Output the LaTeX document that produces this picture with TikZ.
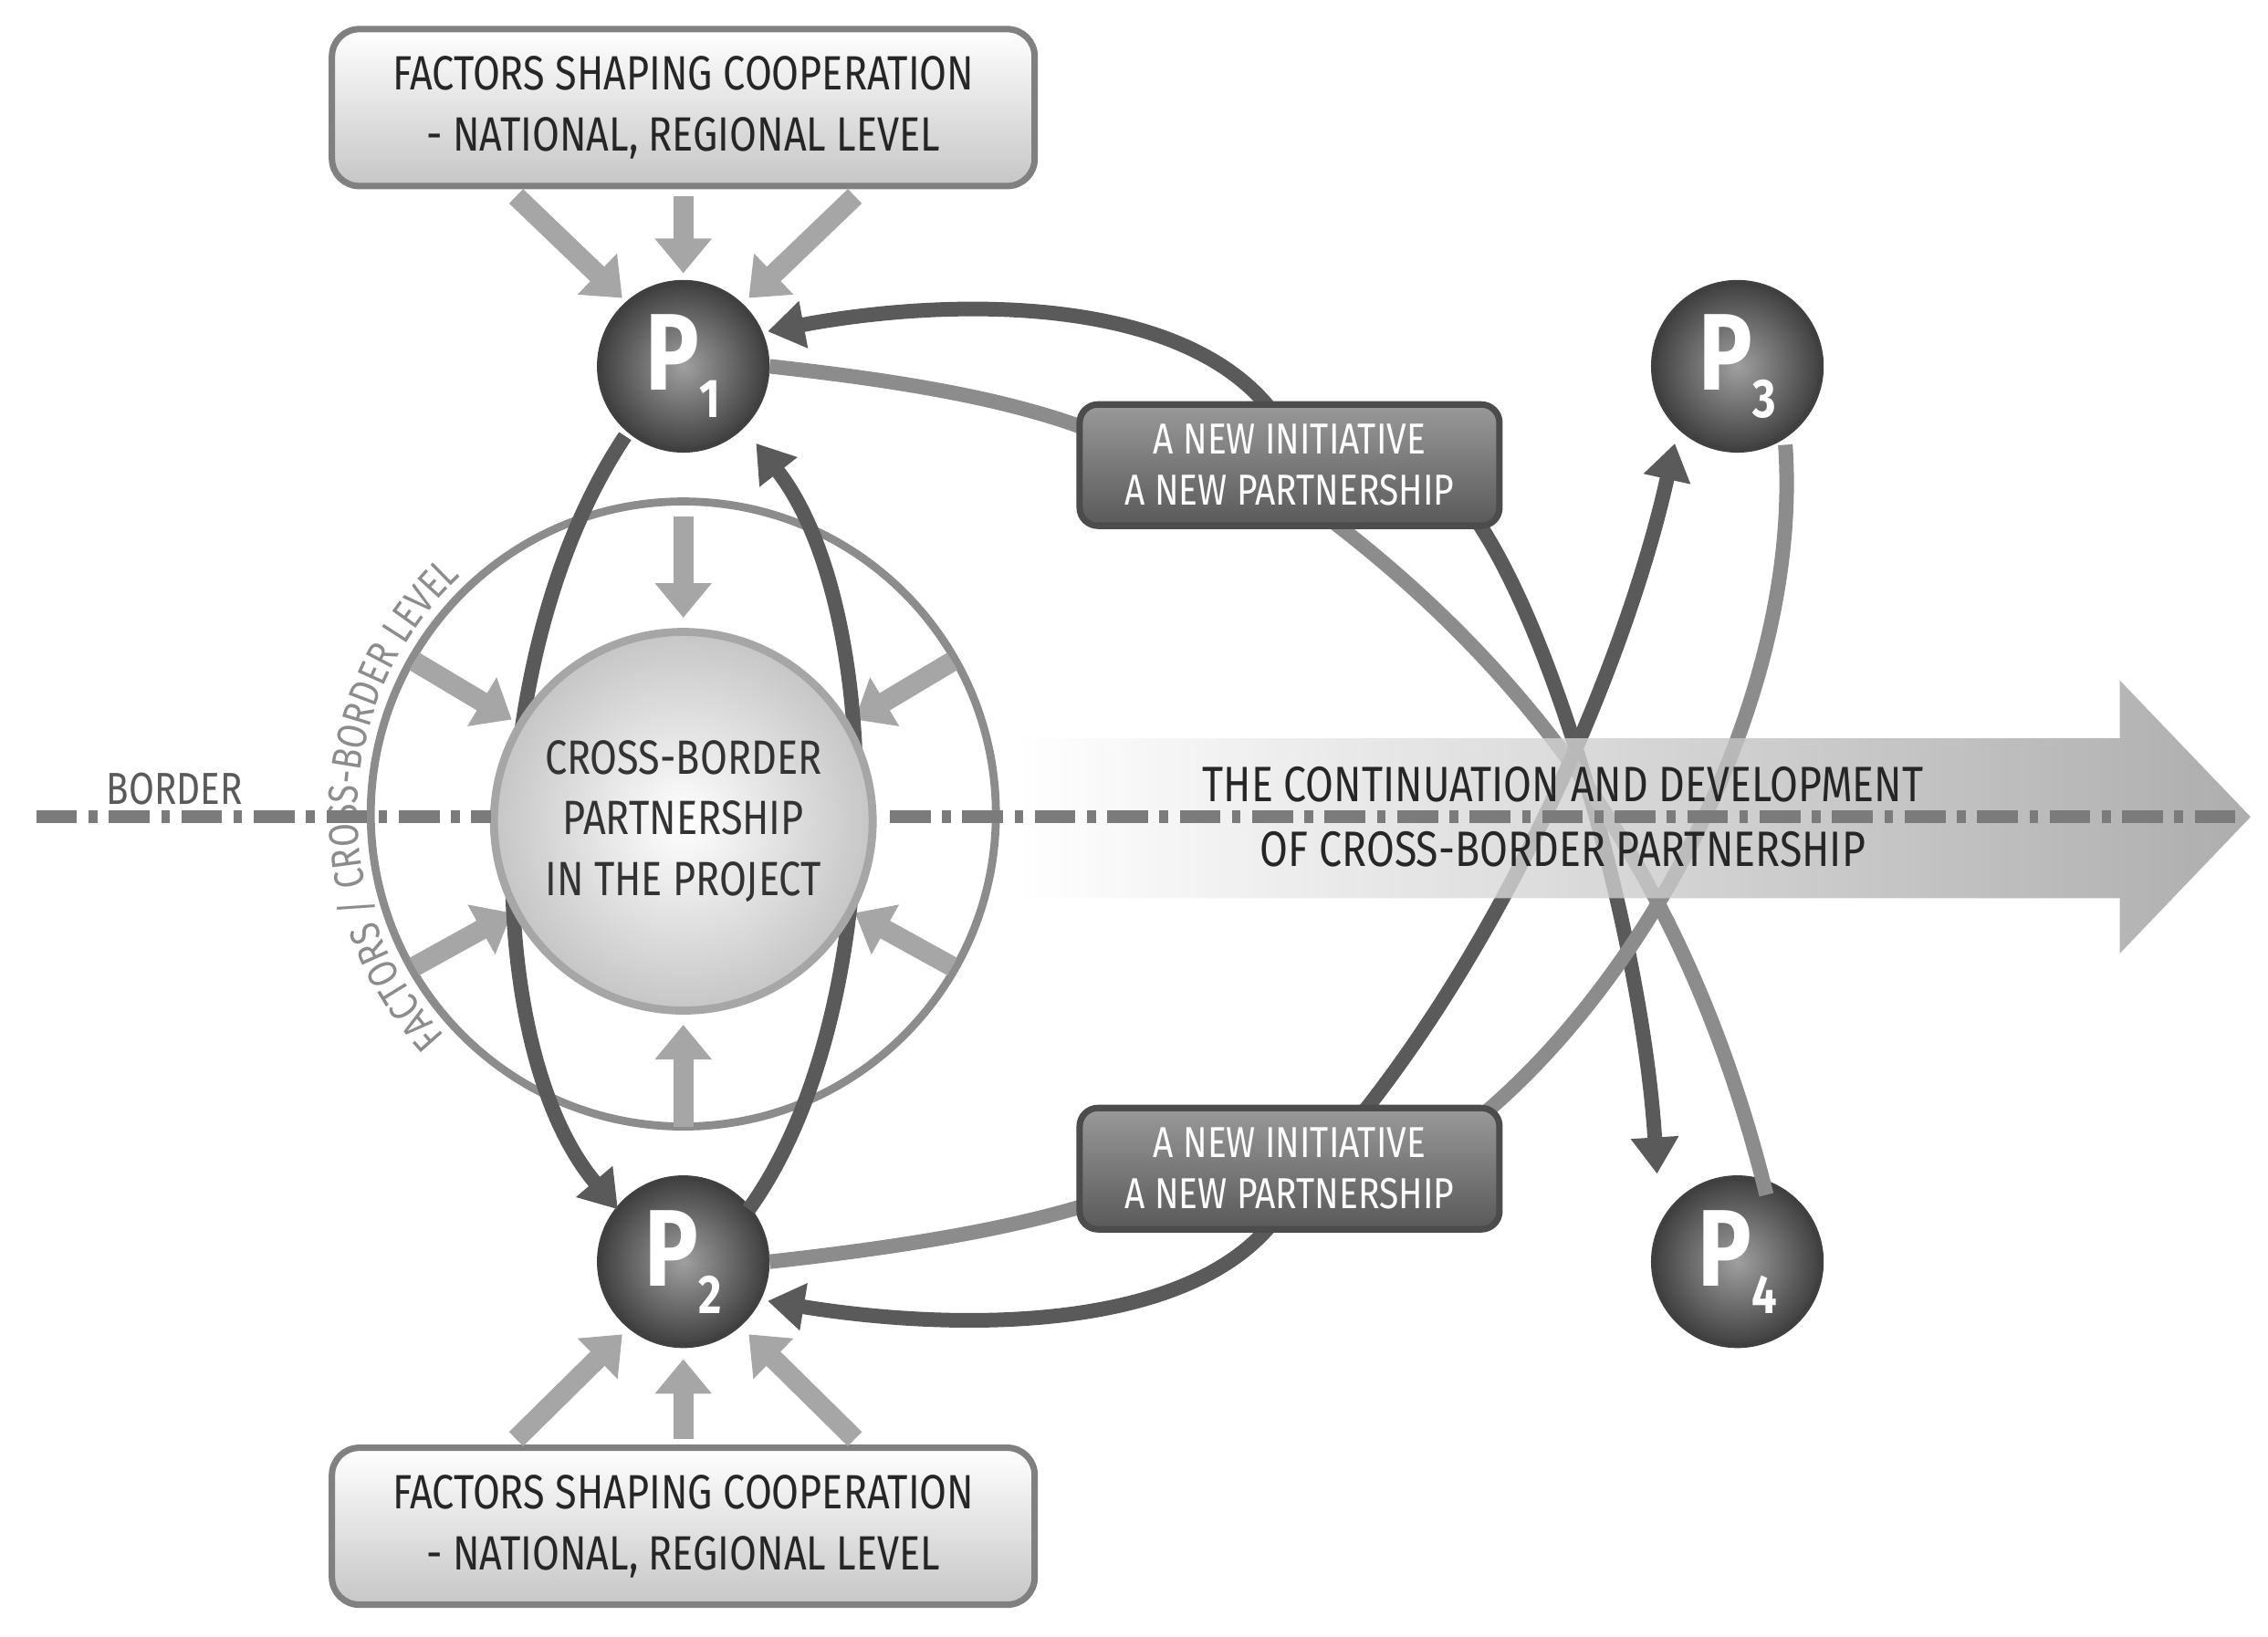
\documentclass[tikz,border=0pt]{standalone}
\usepackage{fontspec}
\setmainfont{Fira Sans}[FakeStretch=0.82]
\usetikzlibrary{arrows.meta,decorations.text,shapes.geometric}
\definecolor{lgray}{HTML}{A6A6A6}
\definecolor{mgray}{HTML}{8C8C8C}
\definecolor{dgray}{HTML}{5A5A5A}
\tikzset{
  block/.style={line width=0.22cm,lgray,-{Triangle[width=0.6cm,length=0.38cm]}},
  curve/.style={line width=0.16cm,mgray},
  darrow/.style={line width=0.16cm,dgray,-{Triangle[width=0.5cm,length=0.4cm]}},
  fbox/.style={draw=gray,line width=2pt,rounded corners=0.3cm,top color=white,bottom color=gray!45,
    minimum width=7.7cm,minimum height=1.72cm,align=center,font=\fontsize{15}{19}\selectfont,text=black!85},
  nbox/.style={draw=black!70,line width=2pt,rounded corners=0.2cm,top color=gray!80,bottom color=black!65,
    minimum width=4.6cm,minimum height=1.33cm,align=center,font=\fontsize{13.5}{16}\selectfont,text=white},
  pnode/.style={circle,draw=black!75,line width=1.5pt,inner color=gray!75,outer color=black!75,minimum size=1.84cm,inner sep=0pt,
    text=white,font=\bfseries\fontsize{34}{34}\selectfont},
}
\newcommand{\plabel}[1]{P\raisebox{-0.25em}{\fontsize{17}{17}\selectfont #1}}
\begin{document}
\begin{tikzpicture}[x=0.01593cm,y=-0.01593cm]
\useasboundingbox (0,0) rectangle (1560,1126);

% boxes
\node[fbox] (top) at (470,74) {FACTORS SHAPING COOPERATION\\- NATIONAL, REGIONAL LEVEL};
\node[fbox] (bot) at (470,1050) {FACTORS SHAPING COOPERATION\\- NATIONAL, REGIONAL LEVEL};

% partners
\node[pnode] (p1) at (470,252) {\plabel{1}};
\node[pnode] (p2) at (470,868) {\plabel{2}};
\node[pnode] (p3) at (1195,252) {\plabel{3}};
\node[pnode] (p4) at (1195,868) {\plabel{4}};

% cross-border level circle
\draw[mgray,line width=2.5pt] (470,560) circle[radius=215];
\begin{scope}[yscale=-1]
\path[decorate,decoration={text along path,text align=center,
  text={|\fontsize{13}{13}\selectfont\color{mgray}|FACTORS / CROSS-BORDER LEVEL}}]
  (470,-560) ++(231:224) arc[start angle=231,end angle=125,radius=224];
\end{scope}

% factor arrows
\draw[block] (355,135) -- (428,205);
\draw[block] (470,135) -- (470,188);
\draw[block] (588,135) -- (515,205);
\draw[block] (355,990) -- (428,918);
\draw[block] (470,990) -- (470,935);
\draw[block] (588,990) -- (515,918);
\draw[block] (470,355) -- (470,425);
\draw[block] (470,775) -- (470,705);
\draw[block] (285,455) -- (352,495);
\draw[block] (655,455) -- (588,495);
\draw[block] (285,665) -- (352,628);
\draw[block] (655,665) -- (588,628);

% P1 - P2 loops
\draw[darrow] (430,300) .. controls (330,450) and (330,720) .. (425,832);
\draw[darrow] (515,832) .. controls (610,700) and (610,420) .. (520,305);

% project
\node[circle,draw=lgray,line width=2.5pt,inner color=white,outer color=gray!45,minimum size=4.15cm,align=center,
  font=\fontsize{15}{19}\selectfont,text=black!80] (cb) at (470,565) {CROSS-BORDER\\PARTNERSHIP\\IN THE PROJECT};

% long curves
\draw[curve] (p1.east) .. controls (620,262) and (700,275) .. (760,300);
\draw[curve] (p2.east) .. controls (620,858) and (700,845) .. (760,825);
\draw[darrow] (880,290) .. controls (820,200) and (650,205) .. (528,228);
\draw[darrow] (880,835) .. controls (820,920) and (650,915) .. (528,895);
\draw[darrow,shorten >=2pt] (1010,350) .. controls (1070,430) and (1130,650) .. (1140,812);
\draw[curve] (905,350) .. controls (1080,480) and (1170,640) .. (1215,822);
\draw[darrow] (930,775) .. controls (1040,640) and (1120,450) .. (1152,305);
\draw[curve] (1010,775) .. controls (1130,680) and (1240,480) .. (1228,306);

% big arrow
\shade[left color=white,right color=gray!80,fill opacity=0.8]
  (700,508) -- (1458,508) -- (1458,468) -- (1548,562) -- (1458,656) -- (1458,618) -- (700,618) -- cycle;

% new initiative boxes
\node[nbox] (n1) at (887,320) {A NEW INITIATIVE\\A NEW PARTNERSHIP};
\node[nbox] (n2) at (887,804) {A NEW INITIATIVE\\A NEW PARTNERSHIP};

% border
\draw[dgray!80,line width=4pt,dash pattern=on 12.7pt off 3.6pt on 2.7pt off 3.6pt] (25,562) -- (338,562);
\draw[dgray!80,line width=4pt,dash pattern=on 12.7pt off 3.6pt on 2.7pt off 3.6pt] (612,562) -- (1545,562);
\node[text=dgray,font=\fontsize{14}{14}\selectfont] (bl) at (120,543) {BORDER};
\node[align=center,text=black!85,font=\fontsize{15.5}{20}\selectfont] (cont) at (1075,562)
  {THE CONTINUATION AND DEVELOPMENT\\OF CROSS-BORDER PARTNERSHIP};
\end{tikzpicture}
\end{document}
